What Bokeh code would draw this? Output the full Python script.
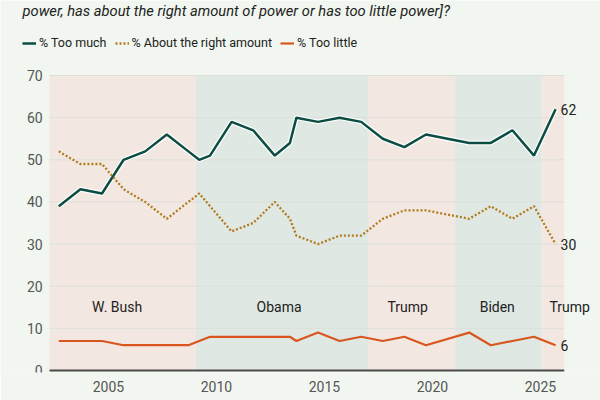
from bokeh.plotting import figure
from bokeh.models import (ColumnDataSource, Label, Legend, LegendItem, Range1d,
                          FixedTicker)
from bokeh.core.properties import value
from bokeh.embed import file_html
from bokeh.resources import INLINE

# ---- data ----
years = [2002.7, 2003.7, 2004.7, 2005.7, 2006.7, 2007.7, 2008.7, 2009.2, 2009.7,
         2010.7, 2011.7, 2012.7, 2013.4, 2013.7, 2014.7, 2015.7, 2016.7, 2017.7,
         2018.7, 2019.7, 2021.7, 2022.7, 2023.7, 2024.7, 2025.7]
too_much = [39, 43, 42, 50, 52, 56, 52, 50, 51, 59, 57, 51, 54, 60, 59, 60, 59, 55,
            53, 56, 54, 54, 57, 51, 62]
about_right = [52, 49, 49, 43, 40, 36, 40, 42, 39, 33, 35, 40, 36, 32, 30, 32, 32, 36,
               38, 38, 36, 39, 36, 39, 30]
too_little = [7, 7, 7, 6, 6, 6, 6, 7, 8, 8, 8, 8, 8, 7, 9, 7, 8, 7, 8, 6, 9, 6, 7, 8, 6]

term_start = [2002.27, 2009.05, 2017.05, 2021.05, 2025.05]
term_end = [2009.05, 2017.05, 2021.05, 2025.05, 2026.1]
term_party = ["R", "D", "R", "D", "R"]
term_names = ["W. Bush", "Obama", "Trump", "Biden", "Trump"]
term_label_x = [2005.4, 2012.9, 2018.85, 2023.0, 2026.35]

series_labels = ["% Too much", "% About the right amount", "% Too little"]
y_ticks = [0, 10, 20, 30, 40, 50, 60, 70]
x_ticks = [2005, 2010, 2015, 2020, 2025]
title_text = "power, has about the right amount of power or has too little power]?"

X0, X1 = term_start[0], term_end[-1]   # extent of the plotting area
FONT = "Roboto"
BG = "#f1f7f0"
C_MUCH = "#0b4d42"
C_RIGHT = "#b27a1c"
C_LITTLE = "#d9561e"
SHADE = {"R": "#f3e8e1", "D": "#dfe8e3"}

p = figure(width=600, height=400, output_backend="svg", toolbar_location=None,
           x_range=Range1d(2000.0, 2027.78), y_range=Range1d(-0.475, 87.8),
           min_border_left=0, min_border_right=0, min_border_top=0,
           min_border_bottom=28)
p.background_fill_color = BG
p.border_fill_color = BG
p.outline_line_color = None
p.grid.visible = False
p.yaxis.visible = False

shade_src = ColumnDataSource(dict(left=term_start, right=term_end,
                                  color=[SHADE[t] for t in term_party]))
p.quad(left="left", right="right", bottom=0, top=y_ticks[-1], color="color",
       source=shade_src, line_color=None)

# horizontal grid lines across the plotting area
grid_src = ColumnDataSource(dict(y=y_ticks[1:]))
p.segment(x0=X0, x1=X1, y0="y", y1="y", source=grid_src, line_color="#dcdfd8",
          line_width=1)

# y tick labels
ytl_src = ColumnDataSource(dict(y=y_ticks, t=[str(v) for v in y_ticks]))
p.text(x=2001.95, y="y", text="t", source=ytl_src, text_font=value(FONT),
       text_font_size="14px", text_color="#555555", text_align="right",
       text_baseline="middle")

src = ColumnDataSource(dict(x=years, much=too_much, right=about_right, little=too_little))
p.line("x", "much", source=src, line_color="white", line_width=5, line_alpha=0.9)
r1 = p.line("x", "much", source=src, line_color=C_MUCH, line_width=2.5)
r2 = p.line("x", "right", source=src, line_color=C_RIGHT, line_width=2.3, line_dash="2 2")
r3 = p.line("x", "little", source=src, line_color=C_LITTLE, line_width=2.2)

# x axis baseline
p.segment(x0=X0, x1=X1, y0=0, y1=0, line_color="#4a4a4a", line_width=2)

p.xaxis.ticker = FixedTicker(ticks=x_ticks)
p.xaxis.axis_line_color = None
p.xaxis.major_tick_line_color = None
p.xaxis.minor_tick_line_color = None
p.xaxis.major_label_text_font = FONT
p.xaxis.major_label_text_font_size = "14px"
p.xaxis.major_label_text_color = "#555555"
p.xaxis.major_label_standoff = 2

# presidency labels
lab_src = ColumnDataSource(dict(x=term_label_x, y=[15] * len(term_names), t=term_names))
p.text("x", "y", text="t", source=lab_src, text_font=value(FONT), text_font_size="14px",
       text_color="#222222", text_align="center", text_baseline="middle")

# end labels
end_src = ColumnDataSource(dict(x=[years[-1]] * 3,
                                y=[too_much[-1], about_right[-1], too_little[-1]],
                                t=[str(too_much[-1]), str(about_right[-1]), str(too_little[-1])]))
p.text("x", "y", text="t", source=end_src, x_offset=5, text_font=value(FONT),
       text_font_size="14px", text_color="#222222", text_align="left",
       text_baseline="middle")

# title (cut-off subtitle line)
p.add_layout(Label(x=2001.02, y=85.4, text=title_text,
                   text_font=FONT, text_font_size="14.7px", text_font_style="italic",
                   text_color="#222222", text_baseline="middle"))

legend = Legend(items=[LegendItem(label=series_labels[0], renderers=[r1]),
                       LegendItem(label=series_labels[1], renderers=[r2]),
                       LegendItem(label=series_labels[2], renderers=[r3])],
                location=(22, 322), orientation="horizontal",
                background_fill_alpha=0, border_line_color=None,
                label_text_font=FONT, label_text_font_size="12.5px",
                label_text_color="#222222", glyph_width=14, glyph_height=14,
                label_standoff=3, spacing=8, padding=0, margin=0)
p.add_layout(legend, "center")

open("out.html", "w").write(file_html(p, INLINE))
